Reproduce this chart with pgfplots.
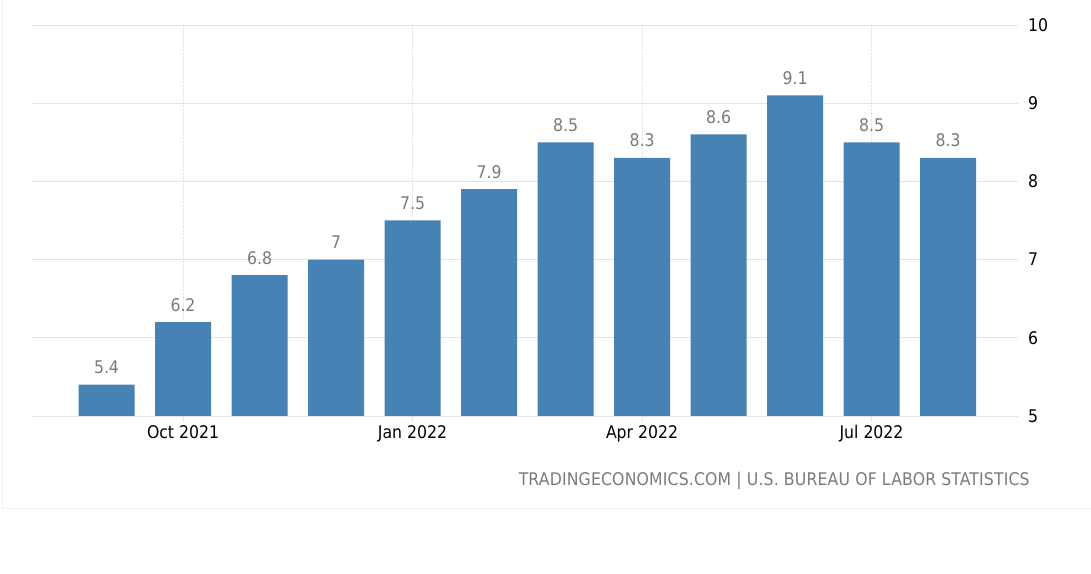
\documentclass[border=0pt]{standalone}
\usepackage{pgfplots}
\pgfplotsset{compat=1.18}
\usepackage{fontspec}
\setmainfont{DejaVu Sans Condensed}
\definecolor{barblue}{RGB}{70,130,180}
\definecolor{valgray}{RGB}{122,122,122}
\definecolor{gridgray}{RGB}{228,228,228}
\newcommand{\chartfont}{\fontsize{17.5}{20}\selectfont}

\begin{document}
\begin{tikzpicture}[x=1bp,y=1bp]
\useasboundingbox (0,0) rectangle (1091,574);
\draw[gridgray!55, line width=0.8bp] (2,574) -- (2,66) -- (1091,66);
\begin{axis}[
    at={(32.3bp,158bp)}, anchor=south west,
    scale only axis, width=985.7bp, height=391bp,
    xmin=-0.97, xmax=11.915, ymin=5, ymax=10,
    axis line style={draw=none},
    ybar, bar width=56bp,
    xtick={1,4,7,10},
    xticklabels={Oct 2021,Jan 2022,Apr 2022,Jul 2022},
    ytick={5,6,7,8,9,10},
    yticklabel pos=right,
    xmajorgrids, ymajorgrids,
    every axis x grid/.style={gridgray, densely dotted, line width=0.8bp},
    every axis y grid/.style={gridgray, line width=0.8bp},
    x tick style={gridgray, line width=0.8bp},
    y tick style={draw=none},
    major tick length=5bp, tick align=outside,
    xtick pos=bottom,
    tick label style={font=\chartfont, text=black},
    /pgf/number format/assume math mode=true,
    xticklabel style={anchor=north, inner sep=0pt, yshift=-4bp},
    yticklabel style={anchor=west, inner sep=0pt, xshift=5bp},
    nodes near coords,
    nodes near coords style={font=\chartfont, text=valgray, anchor=base, inner sep=0pt, yshift=11bp},
]
\addplot[fill=barblue, draw=none] coordinates {
    (0,5.4) (1,6.2) (2,6.8) (3,7) (4,7.5) (5,7.9)
    (6,8.5) (7,8.3) (8,8.6) (9,9.1) (10,8.5) (11,8.3)
};
\end{axis}
\node[anchor=base east, text=valgray, font=\chartfont\addfontfeature{LetterSpace=1}, inner sep=0pt]
    at (1030,88) {TRADINGECONOMICS.COM | U.S. BUREAU OF LABOR STATISTICS};
\end{tikzpicture}
\end{document}
